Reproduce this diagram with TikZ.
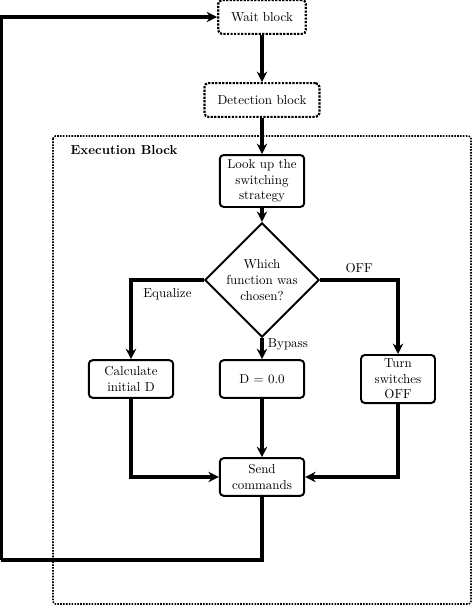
\documentclass[tikz,border=0pt]{standalone}
\usetikzlibrary{arrows.meta,shapes.geometric}

\tikzset{
  block/.style={draw, rounded corners=3pt, line width=1.5pt, align=center,
                minimum width=65pt, minimum height=29pt, inner sep=2pt},
  dotblock/.style={block, line width=1.7pt, densely dotted, minimum height=26pt, inner xsep=10pt, minimum width=0pt},
  decision/.style={diamond, draw, line width=1.5pt, align=center, aspect=1,
                   inner sep=0pt, minimum width=88pt, minimum height=88pt},
  flow/.style={line width=2.5pt, -{Stealth[length=8pt,width=8pt]}},
  wire/.style={line width=2.5pt}
}

\begin{document}
\begin{tikzpicture}[x=0.77pt, y=-0.77pt]
\useasboundingbox (0,0) rectangle (474,606);

% execution frame
\draw[densely dotted, line width=1.2pt, rounded corners=2pt] (53,136) rectangle (471,604);
\node[anchor=west, font=\bfseries] (exlabel) at (66,150) {Execution Block};

\node[dotblock] (wait) at (262,17) {Wait block};
\node[dotblock] (detect) at (262,100) {Detection block};
\node[block, minimum height=40pt] (lookup) at (262,181) {Look up the\\switching\\strategy};
\node[decision] (choice) at (262,280) {Which\\function was\\chosen?};

\node[block] (calc) at (131,379) {Calculate\\initial D};
\node[block] (dzero) at (262,379) {D = 0.0};
\node[block, minimum width=57pt, minimum height=37pt] (turnoff) at (398,379) {Turn\\switches\\OFF};
\node[block] (send) at (262,477) {Send\\commands};

\coordinate (loop) at (1,560);

\draw[flow] (wait) -- (detect);
\draw[flow] (detect) -- (lookup);
\draw[flow] (lookup) -- (choice);
\draw[flow] (choice.west) -| node[pos=0.25, below=2pt]{Equalize} (calc.north);
\draw[flow] (choice.east) -| node[pos=0.25, above=1pt]{OFF} (turnoff.north);
\draw[flow] (choice.south) -- node[pos=0.3, right=0pt]{Bypass} (dzero.north);

\draw[flow] (calc.south) |- (send.west);
\draw[flow] (dzero) -- (send);
\draw[flow] (turnoff.south) |- (send.east);

\draw[wire] (send.south) |- (loop);
\draw[flow] (loop) |- (wait.west);

\end{tikzpicture}
\end{document}
